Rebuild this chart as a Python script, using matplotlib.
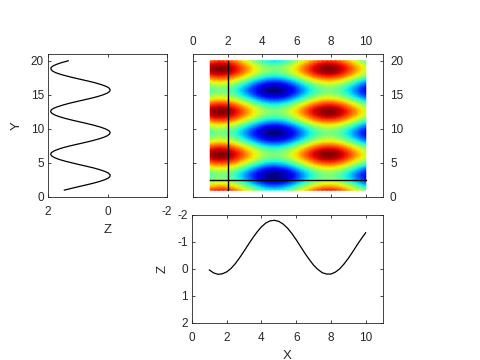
import numpy as np
import matplotlib
matplotlib.use("Agg")
import matplotlib.pyplot as plt

plt.rcParams['font.family'] = ['Liberation Sans', 'DejaVu Sans']
plt.rcParams['axes.unicode_minus'] = False

# Profile along X (at the horizontal cut line, Y = 2.5)
x_vals = [1.00, 1.25, 1.50, 1.75, 2.00, 2.25, 2.50, 2.75, 3.00, 3.25, 3.50, 3.75,
          4.00, 4.25, 4.50, 4.75, 5.00, 5.25, 5.50, 5.75, 6.00, 6.25, 6.50, 6.75,
          7.00, 7.25, 7.50, 7.75, 8.00, 8.25, 8.50, 8.75, 9.00, 9.25, 9.50, 9.75, 10.00]
z_along_x = [0.04, 0.15, 0.20, 0.18, 0.11, -0.02, -0.20, -0.42, -0.66, -0.91, -1.15, -1.37,
             -1.56, -1.70, -1.78, -1.80, -1.76, -1.66, -1.51, -1.31, -1.08, -0.83, -0.58, -0.35,
             -0.14, 0.02, 0.14, 0.19, 0.19, 0.12, 0.00, -0.18, -0.39, -0.63, -0.88, -1.12, -1.34]

# Profile along Y (at the vertical cut line, X = 2)
y_vals = [1.00, 1.25, 1.50, 1.75, 2.00, 2.25, 2.50, 2.75, 3.00, 3.25, 3.50, 3.75,
          4.00, 4.25, 4.50, 4.75, 5.00, 5.25, 5.50, 5.75, 6.00, 6.25, 6.50, 6.75,
          7.00, 7.25, 7.50, 7.75, 8.00, 8.25, 8.50, 8.75, 9.00, 9.25, 9.50, 9.75,
          10.00, 10.25, 10.50, 10.75, 11.00, 11.25, 11.50, 11.75, 12.00, 12.25, 12.50, 12.75,
          13.00, 13.25, 13.50, 13.75, 14.00, 14.25, 14.50, 14.75, 15.00, 15.25, 15.50, 15.75,
          16.00, 16.25, 16.50, 16.75, 17.00, 17.25, 17.50, 17.75, 18.00, 18.25, 18.50, 18.75,
          19.00, 19.25, 19.50, 19.75, 20.00]
z_along_y = [1.45, 1.22, 0.98, 0.73, 0.49, 0.28, 0.11, -0.02, -0.08, -0.09, -0.03, 0.09,
             0.26, 0.46, 0.70, 0.95, 1.19, 1.42, 1.62, 1.77, 1.87, 1.91, 1.89, 1.80,
             1.66, 1.48, 1.26, 1.01, 0.76, 0.52, 0.31, 0.13, 0.00, -0.07, -0.09, -0.04,
             0.07, 0.23, 0.43, 0.66, 0.91, 1.16, 1.39, 1.59, 1.75, 1.86, 1.91, 1.90,
             1.82, 1.68, 1.50, 1.29, 1.05, 0.80, 0.55, 0.33, 0.15, 0.01, -0.07, -0.09,
             -0.05, 0.05, 0.21, 0.40, 0.63, 0.88, 1.13, 1.36, 1.57, 1.74, 1.85, 1.90,
             1.90, 1.83, 1.70, 1.53, 1.32]

# Cut positions
x_cut = 2.0
y_cut = 2.5
z_at_cross = 0.11

# Surface assembled from the two read profiles (separable surface)
Z = np.array(z_along_y)[:, None] + np.array(z_along_x)[None, :] - z_at_cross

ink = (0.15, 0.15, 0.15)
fs_tick = 8.5
fs_lab = 9.5

fig = plt.figure(figsize=(4.8, 3.6), dpi=100)

def style(ax):
    for s in ax.spines.values():
        s.set_color(ink)
        s.set_linewidth(0.6)
    ax.tick_params(direction='in', length=2.5, width=0.6, colors=ink,
                   labelsize=fs_tick, top=True, right=True)
    ax.tick_params(axis='x', pad=6.5)
    ax.tick_params(axis='y', pad=3)

# Left: Z vs Y
axL = fig.add_axes([0.100, 0.453, 0.248, 0.397])
axL.plot(z_along_y, y_vals, color='black', lw=0.9)
axL.set_xlim(2, -2)
axL.set_ylim(0, 21)
axL.set_xticks([2, 0, -2])
axL.set_yticks([0, 5, 10, 15, 20])
axL.set_xlabel('Z', fontsize=fs_lab, color=ink, labelpad=4)
axL.set_ylabel('Y', fontsize=fs_lab, color=ink, labelpad=6)
style(axL)

# Top right: surface map
axM = fig.add_axes([0.402, 0.453, 0.396, 0.397])
axM.pcolormesh(x_vals, y_vals, Z, shading='gouraud', cmap='jet')
axM.plot([x_cut, x_cut], [y_vals[0], y_vals[-1]], color='black', lw=1.0)
axM.plot([x_vals[0], x_vals[-1]], [y_cut, y_cut], color='black', lw=1.0)
axM.set_xlim(0, 11)
axM.set_ylim(0, 21)
axM.set_xticks([0, 2, 4, 6, 8, 10])
axM.set_yticks([0, 5, 10, 15, 20])
style(axM)
axM.tick_params(labelbottom=False, labeltop=True, labelleft=False, labelright=True)
axM.tick_params(axis='x', pad=4)
axM.tick_params(axis='y', pad=5)

# Bottom: Z vs X
axB = fig.add_axes([0.400, 0.103, 0.398, 0.300])
axB.plot(x_vals, z_along_x, color='black', lw=0.9)
axB.set_xlim(0, 11)
axB.set_ylim(2, -2)
axB.set_xticks([0, 2, 4, 6, 8, 10])
axB.set_yticks([-2, -1, 0, 1, 2])
axB.set_xlabel('X', fontsize=fs_lab, color=ink, labelpad=4)
axB.set_ylabel('Z', fontsize=fs_lab, color=ink, labelpad=6)
style(axB)

fig.savefig('out.png', dpi=100)
